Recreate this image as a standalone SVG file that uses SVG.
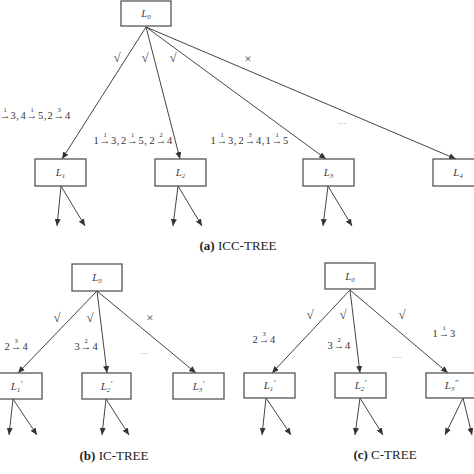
<svg xmlns="http://www.w3.org/2000/svg" width="474" height="474" viewBox="0 0 474 474">
<style>
.box{fill:#fff;stroke:#555;stroke-width:1.3}
.bl{font-family:"Liberation Serif",serif;font-style:italic;font-size:11px;fill:#444;text-anchor:middle}
.sub{font-size:7px}
.pr{font-size:9px}
.ln{stroke:#444;stroke-width:1;fill:none;marker-end:url(#ah)}
.el{font-family:"Liberation Serif",serif;font-size:10.5px;fill:#333;text-anchor:middle}
.sp{font-family:"Liberation Serif",serif;font-size:6.5px;fill:#333;text-anchor:middle}
.ck{font-family:"Liberation Serif","DejaVu Serif",serif;font-size:13px;fill:#444;text-anchor:middle}
.dt{font-family:"Liberation Serif",serif;font-size:9px;fill:#777;text-anchor:middle}
.cap{font-family:"Liberation Serif",serif;font-size:13px;fill:#222;text-anchor:middle}
</style>
<defs>
<marker id="ah" markerUnits="userSpaceOnUse" markerWidth="8" markerHeight="6" refX="7" refY="3" orient="auto">
<path d="M0,0 L7,3 L0,6 z" fill="#333"/>
</marker>
</defs>
<rect width="474" height="474" fill="#fff"/>
<g id="connectors">
<line class="ln" x1="146" y1="27" x2="62" y2="159"/>
<line class="ln" x1="146" y1="27" x2="180" y2="159"/>
<line class="ln" x1="146" y1="27" x2="326" y2="159"/>
<line class="ln" x1="146" y1="27" x2="456" y2="159"/>
<line class="ln" x1="61" y1="186" x2="57" y2="226"/>
<line class="ln" x1="61" y1="186" x2="85" y2="226"/>
<line class="ln" x1="178" y1="186" x2="173" y2="226"/>
<line class="ln" x1="178" y1="186" x2="202" y2="226"/>
<line class="ln" x1="328" y1="186" x2="323" y2="226"/>
<line class="ln" x1="328" y1="186" x2="352" y2="226"/>
<line class="ln" x1="97" y1="291" x2="18" y2="373"/>
<line class="ln" x1="97" y1="291" x2="107" y2="373"/>
<line class="ln" x1="97" y1="291" x2="196" y2="373"/>
<line class="ln" x1="13" y1="399" x2="9" y2="435"/>
<line class="ln" x1="13" y1="399" x2="37" y2="435"/>
<line class="ln" x1="106" y1="399" x2="102" y2="435"/>
<line class="ln" x1="106" y1="399" x2="129" y2="435"/>
<line class="ln" x1="350" y1="290" x2="272" y2="373"/>
<line class="ln" x1="350" y1="290" x2="360" y2="373"/>
<line class="ln" x1="350" y1="290" x2="448" y2="373"/>
<line class="ln" x1="266" y1="398" x2="262" y2="435"/>
<line class="ln" x1="266" y1="398" x2="291" y2="435"/>
<line class="ln" x1="360" y1="398" x2="355" y2="435"/>
<line class="ln" x1="360" y1="398" x2="383" y2="435"/>
<line class="ln" x1="463" y1="398" x2="445" y2="435"/>
<line class="ln" x1="463" y1="398" x2="472" y2="435"/>
</g>
<g id="edge-labels">
<text class="ck" x="117" y="62">√</text>
<text class="ck" x="145" y="62">√</text>
<text class="ck" x="173" y="62">√</text>
<text class="ck" x="248" y="63">×</text>
<text class="dt" x="342" y="124">…</text>
<text class="el" x="-4 5 13 17.5 23 32 40.5 45 50 59 67.5" y="119">1→3,4→5,2→4</text>
<text class="sp" x="5 32 59" y="111.5">113</text>
<text class="el" x="96 105 113.5 118 123.5 132.5 141 145.5 152 161 169.5" y="144">1→3,2→5,2→4</text>
<text class="sp" x="105 132.5 161" y="136.5">112</text>
<text class="el" x="213 222 230.5 235 241 250 258.5 263 268 277 285.5" y="144">1→3,2→4,1→5</text>
<text class="sp" x="222 250 277" y="136.5">131</text>
<text class="ck" x="57" y="322">√</text>
<text class="ck" x="90" y="322">√</text>
<text class="ck" x="150" y="322">×</text>
<text class="dt" x="144" y="354">…</text>
<text class="el" x="7 16 25" y="350">2→4</text>
<text class="sp" x="16" y="342.5">3</text>
<text class="el" x="77 86 95" y="350">3→4</text>
<text class="sp" x="86" y="342.5">2</text>
<text class="ck" x="310" y="319">√</text>
<text class="ck" x="343" y="319">√</text>
<text class="ck" x="402" y="319">√</text>
<text class="dt" x="397" y="358">…</text>
<text class="el" x="255 264 272.5" y="343">2→4</text>
<text class="sp" x="264" y="335.5">3</text>
<text class="el" x="330 339 347.5" y="349">3→4</text>
<text class="sp" x="339" y="341.5">2</text>
<text class="el" x="435 444 452.5" y="337">1→3</text>
<text class="sp" x="444" y="329.5">1</text>
</g>
<g id="a-L0"><rect class="box" x="121" y="1" width="50" height="25"/><text class="bl" x="146" y="17">L<tspan class="sub" dy="2">0</tspan></text></g>
<g id="a-L1"><rect class="box" x="35" y="159" width="51" height="27"/><text class="bl" x="60.5" y="176">L<tspan class="sub" dy="2">1</tspan></text></g>
<g id="a-L2"><rect class="box" x="155" y="159" width="51" height="27"/><text class="bl" x="180.5" y="176">L<tspan class="sub" dy="2">2</tspan></text></g>
<g id="a-L3"><rect class="box" x="303" y="159" width="51" height="27"/><text class="bl" x="328.5" y="176">L<tspan class="sub" dy="2">3</tspan></text></g>
<g id="a-L4"><rect class="box" x="433" y="159" width="51" height="27"/><text class="bl" x="458" y="176">L<tspan class="sub" dy="2">4</tspan></text></g>
<g id="b-L0"><rect class="box" x="72" y="264" width="50" height="27"/><text class="bl" x="97" y="281">L<tspan class="sub" dy="2">0</tspan></text></g>
<g id="b-L1p"><rect class="box" x="-9" y="373" width="51" height="26"/><text class="bl" x="16.5" y="389.5">L<tspan class="sub" dy="2">1</tspan><tspan class="pr" dy="-5">′</tspan></text></g>
<g id="b-L2p"><rect class="box" x="82" y="373" width="49" height="26"/><text class="bl" x="106.5" y="389.5">L<tspan class="sub" dy="2">2</tspan><tspan class="pr" dy="-5">′</tspan></text></g>
<g id="b-L3p"><rect class="box" x="173" y="373" width="51" height="26"/><text class="bl" x="198.5" y="389.5">L<tspan class="sub" dy="2">3</tspan><tspan class="pr" dy="-5">′</tspan></text></g>
<g id="c-L0"><rect class="box" x="325" y="263" width="50" height="26"/><text class="bl" x="350" y="280">L<tspan class="sub" dy="2">0</tspan></text></g>
<g id="c-L1p"><rect class="box" x="244" y="373" width="51" height="25"/><text class="bl" x="269.5" y="389">L<tspan class="sub" dy="2">1</tspan><tspan class="pr" dy="-5">′</tspan></text></g>
<g id="c-L2p"><rect class="box" x="335" y="373" width="51" height="25"/><text class="bl" x="360.5" y="389">L<tspan class="sub" dy="2">2</tspan><tspan class="pr" dy="-5">′</tspan></text></g>
<g id="c-L3pp"><rect class="box" x="426" y="373" width="51" height="25"/><text class="bl" x="451.5" y="389">L<tspan class="sub" dy="2">3</tspan><tspan class="pr" dy="-5">″</tspan></text></g>
<g id="captions">
<text class="cap" x="238" y="250"><tspan font-weight="bold">(a)</tspan> ICC-TREE</text>
<text class="cap" x="114" y="460"><tspan font-weight="bold">(b)</tspan> IC-TREE</text>
<text class="cap" x="385" y="459"><tspan font-weight="bold">(c)</tspan> C-TREE</text>
</g>
</svg>
